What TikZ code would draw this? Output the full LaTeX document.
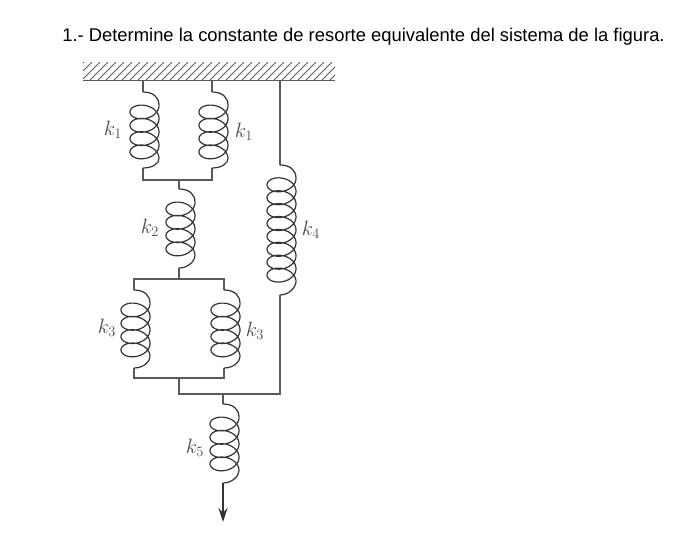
\documentclass[tikz,border=0pt]{standalone}
\usepackage{fontspec}
\setmainfont{Liberation Sans}
\usetikzlibrary{arrows.meta,calc}
\tikzset{
  wire_/.style   = {draw, line width=1.15pt, color=black!65},
  spring_/.style = {draw, line width=1.2pt, color=black!80},
  label_/.style  = {font=\LARGE, scale=1.2, color=black!70, inner sep=0pt}
}
% top, bottom, loops, pitch
\newcommand{\coil}[4]{
  \begin{scope}[shift={(#1)}]
  \draw[spring_] (0,0) .. controls (10,0) and (16,5) .. (16,13.35);
  \draw[spring_] plot[domain=0:{360*#3}, samples=321, variable=\t]
    ({1.5+14.5*cos(\t)}, {13.35+\t/360*#4+10*sin(\t)});
  \draw[spring_] (16,{13.35+#3*#4}) .. controls (16,{18+#3*#4}) and ($(#2)+(10,0)$) .. (#2);
  \end{scope}
}

\begin{document}
\begin{tikzpicture}
		[
		x                       = 1pt,
		y                       = -1pt
		]
		\useasboundingbox (0,0) rectangle (694,538);
		\node [inner sep=0pt, font=\fontsize{18.4}{20}\selectfont] (title) at (363.5,37)
		{1.- Determine la constante de resorte equivalente del sistema de la figura.};

		% support
		\begin{scope}
		\clip (83,62) rectangle (335,80.5);
		\foreach \x in {65,73,...,345}
			\draw [line width=1pt, color=black!65] (\x,81) -- (\x+19,62);
		\end{scope}
		\coordinate (wall_l) at (83,80.5);
		\coordinate (wall_r) at (335,80.5);
		\draw [wire_] (wall_l) -- (wall_r);

		% junctions
		\coordinate (a_l) at (143,80.5);
		\coordinate (a_r) at (212,80.5);
		\coordinate (a_4) at (280,80.5);
		\coordinate (k1l_t) at (143,92);
		\coordinate (k1l_b) at (143,168);
		\coordinate (k1r_t) at (212,92);
		\coordinate (k1r_b) at (212,168);
		\coordinate (b_l) at (143,180);
		\coordinate (b_m) at (179,180);
		\coordinate (b_r) at (212,180);
		\coordinate (k2_t) at (179,189);
		\coordinate (k2_b) at (179,268);
		\coordinate (c_l) at (134,279);
		\coordinate (c_m) at (179,279);
		\coordinate (c_r) at (224,279);
		\coordinate (k3l_t) at (134,290);
		\coordinate (k3l_b) at (134,368);
		\coordinate (k3r_t) at (224,290);
		\coordinate (k3r_b) at (224,368);
		\coordinate (d_l) at (134,378);
		\coordinate (d_m) at (179,378);
		\coordinate (d_r) at (224,378);
		\coordinate (e_l) at (179,394);
		\coordinate (e_m) at (223,394);
		\coordinate (e_r) at (280,394);
		\coordinate (k4_t) at (280,165);
		\coordinate (k4_b) at (280,295);
		\coordinate (k5_t) at (223,404);
		\coordinate (k5_b) at (223,483);
		\coordinate (tip) at (223,522);

		% wires
		\draw [wire_] (a_l) -- (k1l_t);
		\draw [wire_] (a_r) -- (k1r_t);
		\draw [wire_] (a_4) -- (k4_t);
		\draw [wire_] (k1l_b) -- (b_l) -- (b_r) -- (k1r_b);
		\draw [wire_] (b_m) -- (k2_t);
		\draw [wire_] (k2_b) -- (c_m);
		\draw [wire_] (k3l_t) -- (c_l) -- (c_r) -- (k3r_t);
		\draw [wire_] (k3l_b) -- (d_l) -- (d_r) -- (k3r_b);
		\draw [wire_] (d_m) -- (e_l) -- (e_r) -- (k4_b);
		\draw [wire_] (e_m) -- (k5_t);
		\draw [wire_, color=black!80, -{Stealth[length=14pt,width=9pt]}] (k5_b) -- (tip);

		% springs
		\coil{k1l_t}{k1l_b}{4}{13.3}
		\coil{k1r_t}{k1r_b}{4}{13.3}
		\coil{k2_t}{k2_b}{4}{13.3}
		\coil{k3l_t}{k3l_b}{4}{13.3}
		\coil{k3r_t}{k3r_b}{4}{13.3}
		\coil{k4_t}{k4_b}{8}{12.9}
		\coil{k5_t}{k5_b}{4}{13.3}

		% labels
		\node [label_] (lab_k1l) at (113,130) {$k_1$};
		\node [label_] (lab_k1r) at (244,132) {$k_1$};
		\node [label_] (lab_k2) at (150,228) {$k_2$};
		\node [label_] (lab_k3l) at (107,328) {$k_3$};
		\node [label_] (lab_k3r) at (255,331) {$k_3$};
		\node [label_] (lab_k4) at (311,230) {$k_4$};
		\node [label_] (lab_k5) at (195,448) {$k_5$};
		\end{tikzpicture}
\end{document}
